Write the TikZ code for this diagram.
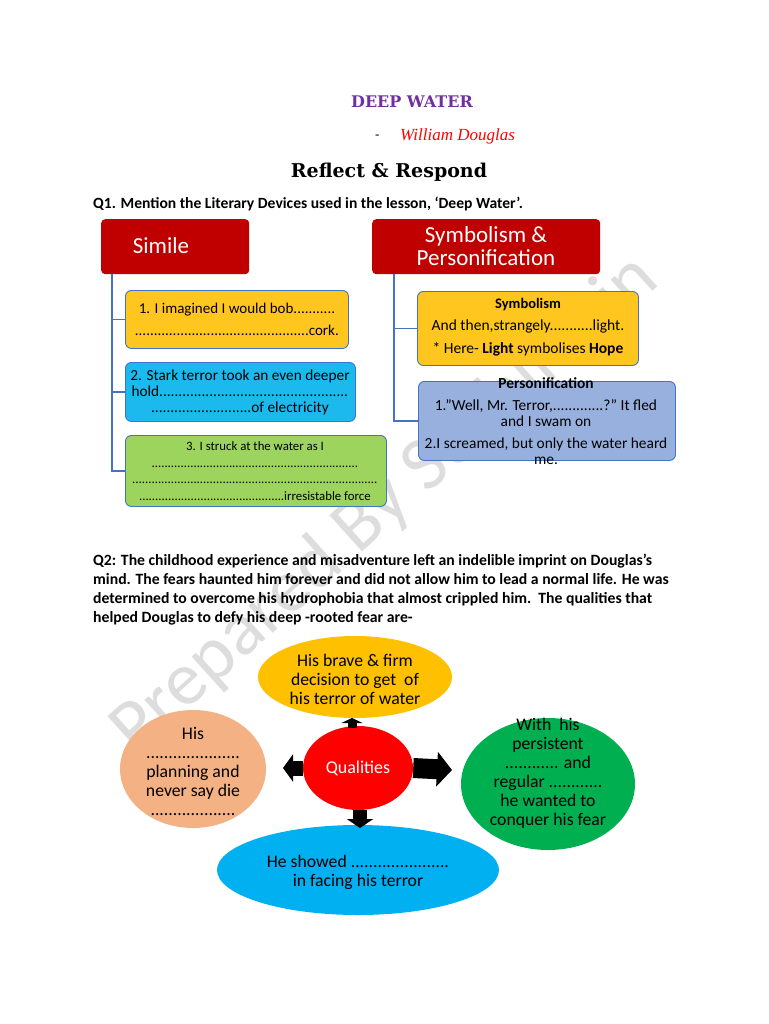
\documentclass[tikz,border=0pt]{standalone}
\usepackage{fontspec}
\setmainfont{Carlito}
\newfontfamily\titlefont{DejaVu Serif}
\newfontfamily\authfont{Liberation Serif}
\usetikzlibrary{shapes.geometric,arrows.meta}
\ExplSyntaxOn
\cs_new:Npn \rdots #1 { \prg_replicate:nn {#1} {.} }
\ExplSyntaxOff
\definecolor{hdred}{HTML}{C00000}
\definecolor{lnblue}{HTML}{4472C4}
\definecolor{bxyel}{HTML}{FFC620}
\definecolor{bxcyan}{HTML}{1CB9EF}
\definecolor{bxgreen}{HTML}{9CD45E}
\definecolor{bxlav}{HTML}{97B0DE}
\definecolor{elyel}{HTML}{FFC000}
\definecolor{elsalmon}{HTML}{F4B183}
\definecolor{elgreen}{HTML}{00B050}
\definecolor{elblue}{HTML}{00B0F0}
\definecolor{elred}{HTML}{FF0000}
\definecolor{ttpurple}{HTML}{7030A0}
\definecolor{wmgray}{HTML}{DDDDDD}
\begin{document}
\begin{tikzpicture}[x=1pt,y=-1pt,
  hdbox/.style={fill=hdred, rounded corners=4pt, inner sep=0pt, anchor=north west},
  bxbox/.style={draw=lnblue, line width=0.9pt, rounded corners=6pt, inner sep=0pt, anchor=north west},
  conn/.style={draw=lnblue, line width=1.1pt},
  txt/.style={inner sep=0pt, align=center, font=\fontsize{15}{16}\selectfont},
  eltxt/.style={inner sep=0pt, align=center, font=\fontsize{17.7}{19}\selectfont},
  elnode/.style={ellipse, inner sep=0pt},
  blockarrow/.style={draw=black, line width=#1}
]
\useasboundingbox (0,0) rectangle (768,1024);
\fill[white] (0,0) rectangle (768,1024);

% watermark
\node[rotate=42, text=wmgray, inner sep=0pt, font=\fontsize{76}{76}\selectfont] (wm) at (385,505) {Prepared By Sushil Jain};

% titles
\node[inner sep=0pt, text=ttpurple, font=\titlefont\bfseries\fontsize{16}{18}\selectfont] (title) at (412,102) {DEEP WATER};
\node[inner sep=0pt, anchor=west, font=\fontsize{14}{16}\selectfont] (dash) at (375,137) {-};
\node[inner sep=0pt, anchor=west, text=red, font=\authfont\itshape\fontsize{17}{18}\selectfont] (author) at (400,136) {William Douglas};
\node[inner sep=0pt, font=\titlefont\bfseries\fontsize{19}{20}\selectfont] (rr) at (389,172) {Reflect \& Respond};

% Q1
\node[inner sep=0pt, anchor=west, font=\bfseries\fontsize{15.6}{18}\selectfont] (q1) at (93,204) {Q1. Mention the Literary Devices used in the lesson, ‘Deep Water’.};

% header boxes
\node[hdbox, minimum width=148pt, minimum height=55pt] (simile) at (101,219) {};
\node[inner sep=0pt, text=white, font=\fontsize{23}{24}\selectfont] (similet) at (161,246) {Simile};
\node[hdbox, minimum width=228pt, minimum height=55pt] (symp) at (372,219) {};
\node[inner sep=0pt, text=white, align=center, font=\fontsize{23}{23}\selectfont] (sympt) at (486,246) {Symbolism \&\\Personification};

% simile boxes
\node[bxbox, fill=bxyel, minimum width=223pt, minimum height=58pt] (b1) at (125,290) {};
\node[txt, font=\fontsize{15}{22}\selectfont] (b1t) at (237,319) {1. I imagined I would bob\rdots{11}\\\rdots{46}cork.};
\node[bxbox, fill=bxcyan, minimum width=230pt, minimum height=59pt] (b2) at (125,362) {};
\node[txt, font=\fontsize{15.3}{16}\selectfont] (b2t) at (240,392) {2. Stark terror took an even deeper\\hold\rdots{49}\\\rdots{26}of electricity};
\node[bxbox, fill=bxgreen, minimum width=261pt, minimum height=71pt] (b3) at (125,435) {};
\node[txt, font=\fontsize{12.8}{16.5}\selectfont] (b3t) at (255,471) {3. I struck at the water as I\\\rdots{64}\\\rdots{76}\\\rdots{45}irresistable force};

% simile connectors
\draw[conn] (simile.south west) ++(11,0) |- (b1.west);
\draw[conn] (simile.south west) ++(11,0) |- (b2.west);
\draw[conn] (simile.south west) ++(11,0) |- (b3.west);

% symbolism/personification boxes
\node[bxbox, fill=bxyel, minimum width=221pt, minimum height=74pt] (sb) at (417,291) {};
\node[txt, font=\fontsize{15.5}{22.5}\selectfont] (sbt) at (528,327) {{\bfseries\fontsize{14.5}{22.5}\selectfont Symbolism}\\And then,strangely\rdots{11}light.\\* Here- \textbf{Light} symbolises \textbf{Hope}};
\node[bxbox, fill=bxlav, minimum width=257pt, minimum height=79pt] (pb) at (418,381) {};
\node[txt, font=\fontsize{15.4}{16}\selectfont] (pbt) at (546,421) {{\bfseries Personification}\\[6pt]1."Well, Mr. Terror,\rdots{13}?" It fled\\and I swam on\\[6pt]2.I screamed, but only the water heard\\me.};

% sym connectors
\draw[conn] (symp.south west) ++(22,0) |- (sb.west);
\draw[conn] (symp.south west) ++(22,0) |- (pb.west);

% Q2
\node[inner sep=0pt, anchor=west, align=left, font=\bfseries\fontsize{15.7}{19}\selectfont] (q2) at (93,590) {Q2: The childhood experience and misadventure left an indelible imprint on Douglas’s\\mind. The fears haunted him forever and did not allow him to lead a normal life. He was\\determined to overcome his hydrophobia that almost crippled him.\ \ The qualities that\\helped Douglas to defy his deep -rooted fear are-};

% ellipses
\node[elnode, fill=elyel, minimum width=194pt, minimum height=82pt] (etop) at (355,677) {};
\node[eltxt] (etopt) at (355,679) {His brave \& firm\\decision to get\ \ of\\his terror of water};
\node[elnode, fill=elsalmon, minimum width=146pt, minimum height=118pt] (eleft) at (193,769) {};
\node[eltxt] (eleftt) at (193,771) {His\\\rdots{21}\\planning and\\never say die\\\rdots{19}};
\node[elnode, fill=elgreen, minimum width=174pt, minimum height=132pt] (eright) at (548,784) {};
\node[eltxt] (erightt) at (548,773) {With\ \ his\\persistent\\\rdots{12} and\\regular \rdots{12}\\he wanted to\\conquer his fear};
\node[elnode, fill=elblue, minimum width=282pt, minimum height=90pt] (ebot) at (358,870) {};
\node[eltxt] (ebott) at (358,872) {He showed \rdots{22}\\in facing his terror};
\node[elnode, fill=elred, minimum width=110pt, minimum height=84pt] (q) at (358,768) {};
\node[inner sep=0pt, text=white, font=\fontsize{18}{18}\selectfont] (qt) at (358,768) {Qualities};

% block arrows
\coordinate (aR) at (452,770);
\coordinate (aL) at (283,768);
\coordinate (aU) at (352,718);
\coordinate (aD) at (360,828);
\draw[blockarrow=20pt, -{Triangle[length=15pt,width=34pt]}] (q.east) -- (aR);
\draw[blockarrow=15pt, -{Triangle[length=10pt,width=27pt]}] (q.west) -- (aL);
\draw[blockarrow=9pt, -{Triangle[length=5pt,width=21pt]}] (q.north -| aU) ++(0,2) -- (aU);
\draw[blockarrow=14pt, -{Triangle[length=9pt,width=26pt]}] (q.south -| aD) -- (aD);
\end{tikzpicture}
\end{document}
